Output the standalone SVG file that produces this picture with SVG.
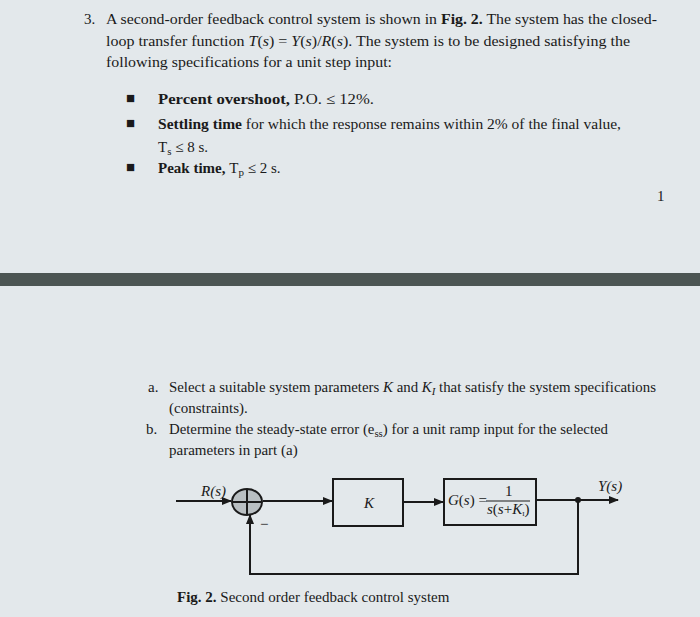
<svg xmlns="http://www.w3.org/2000/svg" width="700" height="617" viewBox="0 0 700 617">
<style>
text{font-family:"Liberation Serif",serif;fill:#1a1a1a;font-size:15px}
.b{font-weight:bold}
.s{font-size:11px}
.ln{stroke:#1a1a1a;stroke-width:2;fill:none}
.bx{stroke:#1a1a1a;stroke-width:2;fill:none}
</style>
<defs><marker id="ah" markerWidth="10" markerHeight="8" refX="9" refY="4" orient="auto" markerUnits="userSpaceOnUse"><path d="M0,0L10,4L0,8z" fill="#1a1a1a"/></marker></defs>
<rect width="700" height="617" fill="#e3e8eb"/>
<rect x="0" y="273" width="700" height="13" fill="#4c5553"/>
<g id="problem">
<text x="84" y="24">3.</text>
<text x="106" y="24" textLength="551" lengthAdjust="spacingAndGlyphs">A second-order feedback control system is shown in <tspan class="b">Fig. 2.</tspan> The system has the closed-</text>
<text x="106" y="46" textLength="524" lengthAdjust="spacingAndGlyphs">loop transfer function <tspan font-style="italic">T</tspan>(<tspan font-style="italic">s</tspan>) = <tspan font-style="italic">Y</tspan>(<tspan font-style="italic">s</tspan>)/<tspan font-style="italic">R</tspan>(<tspan font-style="italic">s</tspan>). The system  is to be designed satisfying  the</text>
<text x="106" y="67" textLength="286" lengthAdjust="spacingAndGlyphs">following specifications for a unit step input:</text>
<text x="126" y="103" font-size="9">■</text><text x="158" y="104" textLength="216" lengthAdjust="spacingAndGlyphs"><tspan class="b">Percent overshoot, </tspan>P.O. ≤ 12%.</text>
<text x="126" y="128" font-size="9">■</text><text x="158" y="129" textLength="463" lengthAdjust="spacingAndGlyphs"><tspan class="b">Settling time</tspan> for which the response remains within 2% of the final value,</text>
<text x="158" y="152">T<tspan class="s" baseline-shift="-3">s</tspan> ≤ 8 s.</text>
<text x="126" y="172" font-size="9">■</text><text x="158" y="173"><tspan class="b">Peak time, </tspan>T<tspan class="s" baseline-shift="-3">p</tspan> ≤  2 s.</text>
<text x="657" y="201" font-family="DejaVu Sans" font-size="12">1</text>
</g>
<g id="questions">
<text x="148" y="392">a.</text>
<text x="169" y="392" textLength="487" lengthAdjust="spacingAndGlyphs">Select a suitable system parameters <tspan font-style="italic">K</tspan> and <tspan font-style="italic">K</tspan><tspan class="s" font-style="italic" baseline-shift="-3">I</tspan> that satisfy the system specifications</text>
<text x="169" y="413">(constraints).</text>
<text x="146" y="434">b.</text>
<text x="169" y="434" textLength="439" lengthAdjust="spacingAndGlyphs">Determine the steady-state error (e<tspan class="s" baseline-shift="-3">ss</tspan>) for a  unit ramp input for the selected</text>
<text x="169" y="455">parameters in part (a)</text>
</g>
<g id="connectors">
<line class="ln" x1="176" y1="501" x2="231" y2="501" marker-end="url(#ah)"/>
<line class="ln" x1="263" y1="501" x2="332" y2="501" marker-end="url(#ah)"/>
<line class="ln" x1="403" y1="502" x2="443" y2="502" marker-end="url(#ah)"/>
<line class="ln" x1="536" y1="500" x2="618" y2="500" marker-end="url(#ah)"/>
<polyline class="ln" points="578,500 578,574 250,574 250,515" marker-end="url(#ah)"/>
<circle cx="578" cy="500" r="3" fill="#1a1a1a"/>
</g>
<g id="sum">
<ellipse cx="247" cy="502" rx="15" ry="13" fill="#b9bfc2" stroke="#1a1a1a" stroke-width="2"/>
<line class="ln" x1="232" y1="502" x2="262" y2="502"/>
<line class="ln" x1="247" y1="489" x2="247" y2="515"/>
<text x="201" y="496" font-style="italic">R(s)</text>
<text x="260" y="529">−</text>
</g>
<g id="K"><rect class="bx" x="333" y="479" width="70" height="47"/><text x="364" y="508" font-style="italic">K</text></g>
<g id="G"><rect class="bx" x="444" y="479" width="92" height="46"/>
<text x="448" y="505" font-size="10"><tspan font-style="italic">G</tspan>(<tspan font-style="italic">s</tspan>) =</text>
<line x1="486" y1="501" x2="530" y2="501" stroke="#1a1a1a" stroke-width="1"/>
<text x="505" y="496" font-size="10">1</text>
<text x="487" y="514" font-size="10"><tspan font-style="italic">s</tspan>(<tspan font-style="italic">s</tspan>+<tspan font-style="italic">K</tspan><tspan font-size="7" baseline-shift="-2">I</tspan>)</text>
</g>
<text x="598" y="491" font-style="italic">Y(s)</text>
<text x="177" y="602" font-size="13"><tspan class="b">Fig. 2.</tspan>  Second order feedback control system</text>
</svg>
